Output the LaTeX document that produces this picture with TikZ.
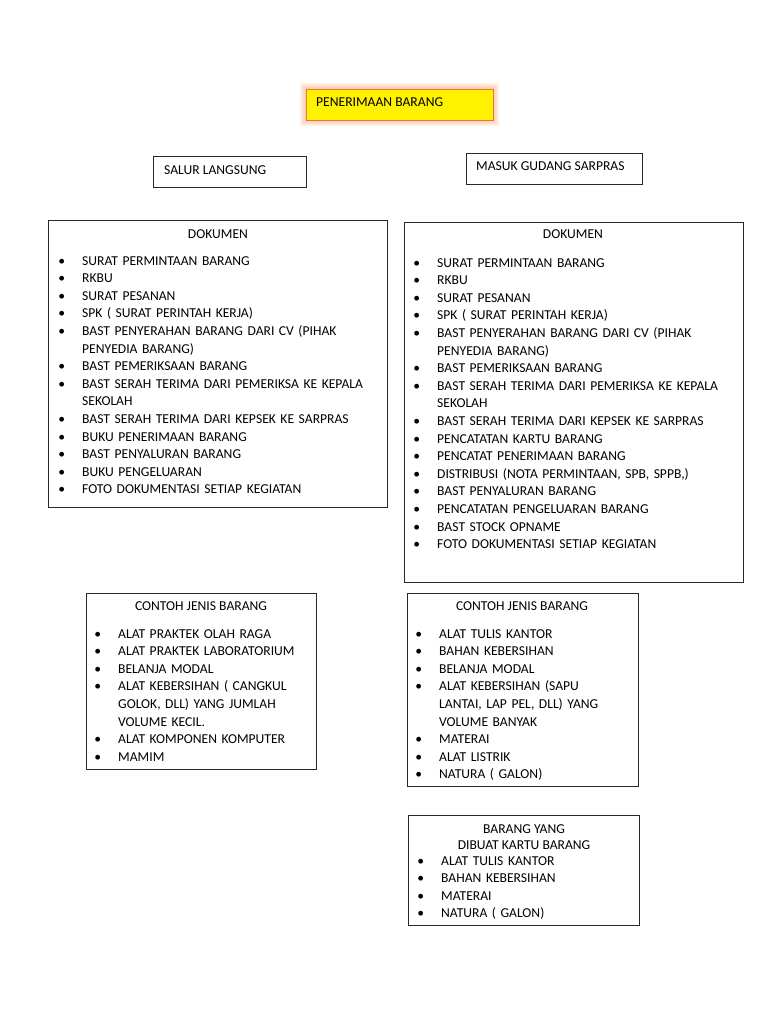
\documentclass[tikz,border=0pt]{standalone}
\usepackage{fontspec}
\setmainfont{Carlito}
\definecolor{glow}{RGB}{252,170,120}
\definecolor{edgeor}{RGB}{245,115,50}
\definecolor{boxline}{RGB}{40,40,40}
\newcommand\itm[1]{\leavevmode\llap{\makebox[41pt][c]{\textbullet}}#1}
\newcommand\cnt[1]{\leavevmode#1}
\tikzset{
  framebox/.style={draw=boxline, line width=0.9pt, fill=none, inner sep=0pt, anchor=north west},
  txt/.style={inner sep=0pt, font=\fontsize{13.6}{17.6}\selectfont},
  listtxt/.style={txt, anchor=base west, text width=330pt, align=left},
  headtxt/.style={txt, anchor=base},
}
\begin{document}
\begin{tikzpicture}[x=1pt,y=-1pt]
\useasboundingbox (0,0) rectangle (768,1024);
\fill[white] (0,0) rectangle (768,1024);

% title box with glow
\foreach \g in {6,5,4,3,2,1}{
  \fill[glow, opacity=0.12] (306-\g,89-\g) rectangle (493+\g,120+\g);
}
\node[framebox, draw=edgeor, fill=yellow, line width=1.2pt, minimum width=187pt, minimum height=31pt] (titlebox) at (306,89) {};
\node[txt, anchor=base west] (titletext) at (316,107) {PENERIMAAN BARANG};

% second level
\node[framebox, minimum width=153pt, minimum height=31pt] (salurbox) at (153,156) {};
\node[txt, anchor=base west] (salurtext) at (164,175) {SALUR LANGSUNG};
\node[framebox, minimum width=176pt, minimum height=31pt] (masukbox) at (466,153) {};
\node[txt, anchor=base west] (masuktext) at (476,171) {MASUK GUDANG SARPRAS};

% left DOKUMEN
\node[framebox, minimum width=339pt, minimum height=287pt] (dokLbox) at (48,220) {};
\node[headtxt] (dokLhead) at (218,238) {DOKUMEN};
\node[listtxt] (dokLlist) at (82,265) {%
\itm{SURAT PERMINTAAN BARANG}\\
\itm{RKBU}\\
\itm{SURAT PESANAN}\\
\itm{SPK ( SURAT PERINTAH KERJA)}\\
\itm{BAST PENYERAHAN BARANG DARI CV (PIHAK}\\
\cnt{PENYEDIA BARANG)}\\
\itm{BAST PEMERIKSAAN BARANG}\\
\itm{BAST SERAH TERIMA DARI PEMERIKSA KE KEPALA}\\
\cnt{SEKOLAH}\\
\itm{BAST SERAH TERIMA DARI KEPSEK KE SARPRAS}\\
\itm{BUKU PENERIMAAN BARANG}\\
\itm{BAST PENYALURAN BARANG}\\
\itm{BUKU PENGELUARAN}\\
\itm{FOTO DOKUMENTASI SETIAP KEGIATAN}};

% right DOKUMEN
\node[framebox, minimum width=339pt, minimum height=360pt] (dokRbox) at (404,222) {};
\node[headtxt] (dokRhead) at (573,239) {DOKUMEN};
\node[listtxt] (dokRlist) at (437,267) {%
\itm{SURAT PERMINTAAN BARANG}\\
\itm{RKBU}\\
\itm{SURAT PESANAN}\\
\itm{SPK ( SURAT PERINTAH KERJA)}\\
\itm{BAST PENYERAHAN BARANG DARI CV (PIHAK}\\
\cnt{PENYEDIA BARANG)}\\
\itm{BAST PEMERIKSAAN BARANG}\\
\itm{BAST SERAH TERIMA DARI PEMERIKSA KE KEPALA}\\
\cnt{SEKOLAH}\\
\itm{BAST SERAH TERIMA DARI KEPSEK KE SARPRAS}\\
\itm{PENCATATAN KARTU BARANG}\\
\itm{PENCATAT PENERIMAAN BARANG}\\
\itm{DISTRIBUSI (NOTA PERMINTAAN, SPB, SPPB,)}\\
\itm{BAST PENYALURAN BARANG}\\
\itm{PENCATATAN PENGELUARAN BARANG}\\
\itm{BAST STOCK OPNAME}\\
\itm{FOTO DOKUMENTASI SETIAP KEGIATAN}};

% left CONTOH
\node[framebox, minimum width=230pt, minimum height=176pt] (conLbox) at (86,593) {};
\node[headtxt] (conLhead) at (201,610) {CONTOH JENIS BARANG};
\node[listtxt] (conLlist) at (118,638) {%
\itm{ALAT PRAKTEK OLAH RAGA}\\
\itm{ALAT PRAKTEK LABORATORIUM}\\
\itm{BELANJA MODAL}\\
\itm{ALAT KEBERSIHAN ( CANGKUL}\\
\cnt{GOLOK, DLL) YANG JUMLAH}\\
\cnt{VOLUME KECIL.}\\
\itm{ALAT KOMPONEN KOMPUTER}\\
\itm{MAMIM}};

% right CONTOH
\node[framebox, minimum width=231pt, minimum height=193pt] (conRbox) at (407,593) {};
\node[headtxt] (conRhead) at (522,610) {CONTOH JENIS BARANG};
\node[listtxt] (conRlist) at (439,638) {%
\itm{ALAT TULIS KANTOR}\\
\itm{BAHAN KEBERSIHAN}\\
\itm{BELANJA MODAL}\\
\itm{ALAT KEBERSIHAN (SAPU}\\
\cnt{LANTAI, LAP PEL, DLL) YANG}\\
\cnt{VOLUME BANYAK}\\
\itm{MATERAI}\\
\itm{ALAT LISTRIK}\\
\itm{NATURA ( GALON)}};

% BARANG YANG DIBUAT KARTU BARANG
\node[framebox, minimum width=231pt, minimum height=110pt] (kartubox) at (408,815) {};
\node[headtxt] (kartuhead1) at (524,833) {BARANG YANG};
\node[headtxt] (kartuhead2) at (524,849) {DIBUAT KARTU BARANG};
\node[listtxt] (kartulist) at (441,865) {%
\itm{ALAT TULIS KANTOR}\\
\itm{BAHAN KEBERSIHAN}\\
\itm{MATERAI}\\
\itm{NATURA ( GALON)}};
\end{tikzpicture}
\end{document}
